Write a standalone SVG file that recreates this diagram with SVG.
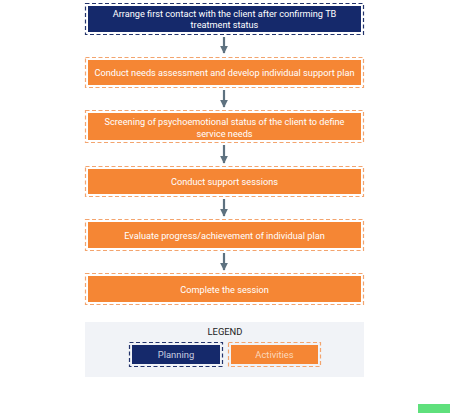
<svg xmlns="http://www.w3.org/2000/svg" width="474" height="413" viewBox="0 0 474 413">
<style>
.plan{fill:#15296b}
.act{fill:#f58634}
.pb{fill:none;stroke:#23336b;stroke-width:1.2;stroke-dasharray:4 2.5}
.ab{fill:none;stroke:#f3a46e;stroke-width:1.2;stroke-dasharray:4 2.5}
.t{font-family:Roboto,"Liberation Sans",sans-serif;font-size:9.2px;fill:#ffffff;text-anchor:middle}
.lt{font-family:Roboto,"Liberation Sans",sans-serif;font-size:9.4px;fill:#222222;text-anchor:middle}
.lpt{font-family:Roboto,"Liberation Sans",sans-serif;font-size:9.4px;fill:#c9cde0;text-anchor:middle}
.lat{font-family:Roboto,"Liberation Sans",sans-serif;font-size:9.4px;fill:#fbd8bd;text-anchor:middle}
.c{stroke:#5e7280;stroke-width:2.2;fill:none}
</style>
<defs>
<marker id="ah" viewBox="0 0 10 10" refX="9" refY="5" markerWidth="3.6" markerHeight="3.6" orient="auto" markerUnits="strokeWidth">
<path d="M0,0 L10,5 L0,10 z" fill="#5e7280"/>
</marker>
</defs>
<rect width="474" height="413" fill="#ffffff"/>
<g id="connectors">
<line class="c" x1="224" y1="37" x2="224" y2="53" marker-end="url(#ah)"/>
<line class="c" x1="224" y1="90" x2="224" y2="107" marker-end="url(#ah)"/>
<line class="c" x1="224" y1="145" x2="224" y2="163" marker-end="url(#ah)"/>
<line class="c" x1="224" y1="199" x2="224" y2="216" marker-end="url(#ah)"/>
<line class="c" x1="224" y1="253" x2="224" y2="270" marker-end="url(#ah)"/>
</g>
<g id="n1">
<rect class="pb" x="85.5" y="3.5" width="278" height="31"/>
<rect class="plan" x="88" y="6" width="273" height="26"/>
<text class="t" x="224.5" y="16.5">Arrange first contact with the client after confirming TB</text>
<text class="t" x="224.5" y="28">treatment status</text>
</g>
<g id="n2">
<rect class="ab" x="85.5" y="57.5" width="278" height="30"/>
<rect class="act" x="88" y="60" width="273" height="25"/>
<text class="t" x="224.5" y="76">Conduct needs assessment and develop individual support plan</text>
</g>
<g id="n3">
<rect class="ab" x="85.5" y="110.5" width="278" height="32"/>
<rect class="act" x="88" y="113" width="273" height="27"/>
<text class="t" x="224.5" y="125">Screening of psychoemotional status of the client to define</text>
<text class="t" x="224.5" y="136.5">service needs</text>
</g>
<g id="n4">
<rect class="ab" x="85.5" y="166.5" width="278" height="30"/>
<rect class="act" x="88" y="169" width="273" height="25"/>
<text class="t" x="224.5" y="185">Conduct support sessions</text>
</g>
<g id="n5">
<rect class="ab" x="85.5" y="219.5" width="278" height="31"/>
<rect class="act" x="88" y="222" width="273" height="26"/>
<text class="t" x="224.5" y="238.5">Evaluate progress/achievement of individual plan</text>
</g>
<g id="n6">
<rect class="ab" x="85.5" y="273.5" width="278" height="31"/>
<rect class="act" x="88" y="276" width="273" height="26"/>
<text class="t" x="224.5" y="292.5">Complete the session</text>
</g>
<g id="legend">
<rect x="85" y="322" width="279" height="55" fill="#f1f3f7"/>
<text class="lt" x="225" y="335">LEGEND</text>
<rect class="pb" x="129.5" y="342.5" width="93" height="24"/>
<rect class="plan" x="132" y="345" width="88" height="19"/>
<text class="lpt" x="176" y="358">Planning</text>
<rect class="ab" x="228.5" y="342.5" width="92" height="24"/>
<rect class="act" x="231" y="345" width="87" height="19"/>
<text class="lat" x="274.5" y="358">Activities</text>
</g>
<rect x="418" y="404" width="32" height="9" fill="#5fe07c"/>
</svg>
